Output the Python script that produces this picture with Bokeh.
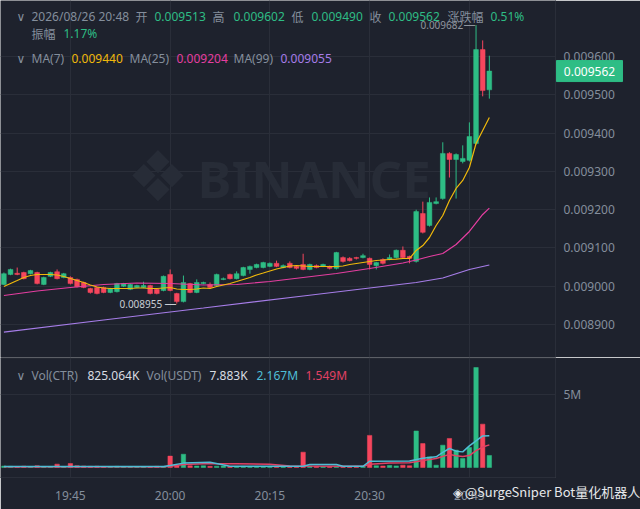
import pandas as pd
from bokeh.plotting import figure
from bokeh.models import (Range1d, LinearAxis, FixedTicker, Grid, Label, Span,
                          PrintfTickFormatter, ColumnDataSource)
from bokeh.core.properties import value
from bokeh.layouts import column
from bokeh.embed import file_html
from bokeh.resources import INLINE

# ---------------- data ----------------
start_time = "2026-08-26 19:35"   # first 1-minute candle

opens = [0.009005, 0.009031, 0.009034, 0.009036, 0.009033, 0.009036, 0.009005, 0.009026, 0.009038, 0.009023,
         0.009023, 0.009018, 0.009010, 0.008994, 0.008997, 0.008997, 0.008984, 0.008986, 0.009000, 0.008992,
         0.008997, 0.008997, 0.009002, 0.008992, 0.008989, 0.009031, 0.008981, 0.008960, 0.009007, 0.008984,
         0.009007, 0.009005, 0.009002, 0.009018, 0.009031, 0.009020, 0.009028, 0.009044, 0.009049, 0.009049,
         0.009052, 0.009060, 0.009049, 0.009060, 0.009052, 0.009057, 0.009044, 0.009054, 0.009052, 0.009052,
         0.009047, 0.009075, 0.009073, 0.009075, 0.009075, 0.009073, 0.009054, 0.009070, 0.009070, 0.009075,
         0.009094, 0.009078, 0.009065, 0.009190, 0.009159, 0.009216, 0.009229, 0.009347, 0.009331, 0.009326,
         0.009329, 0.009373, 0.009618, 0.009513]
highs = [0.009036, 0.009046, 0.009049, 0.009038, 0.009043, 0.009038, 0.009025, 0.009038, 0.009044, 0.009035,
         0.009026, 0.009020, 0.009012, 0.008996, 0.008999, 0.008999, 0.008996, 0.009009, 0.009009, 0.009007,
         0.009004, 0.009012, 0.009004, 0.008994, 0.009028, 0.009044, 0.008983, 0.009028, 0.009009, 0.009018,
         0.009012, 0.009010, 0.009033, 0.009023, 0.009033, 0.009039, 0.009051, 0.009054, 0.009059, 0.009064,
         0.009062, 0.009067, 0.009057, 0.009065, 0.009054, 0.009085, 0.009059, 0.009057, 0.009059, 0.009054,
         0.009090, 0.009078, 0.009076, 0.009077, 0.009085, 0.009075, 0.009064, 0.009073, 0.009083, 0.009096,
         0.009104, 0.009080, 0.009200, 0.009221, 0.009232, 0.009232, 0.009376, 0.009350, 0.009347, 0.009368,
         0.009428, 0.009682, 0.009642, 0.009602]
lows = [0.009003, 0.009029, 0.009029, 0.009018, 0.009031, 0.009005, 0.009003, 0.009024, 0.009018, 0.009021,
        0.009005, 0.008997, 0.008995, 0.008981, 0.008979, 0.008982, 0.008982, 0.008984, 0.008998, 0.008990,
        0.008995, 0.008995, 0.008979, 0.008979, 0.008987, 0.008987, 0.008955, 0.008958, 0.008982, 0.008982,
        0.009005, 0.008995, 0.009000, 0.009016, 0.009018, 0.009018, 0.009026, 0.009033, 0.009047, 0.009047,
        0.009050, 0.009050, 0.009047, 0.009047, 0.009044, 0.009042, 0.009042, 0.009047, 0.009050, 0.009044,
        0.009044, 0.009062, 0.009065, 0.009070, 0.009073, 0.009044, 0.009044, 0.009057, 0.009068, 0.009073,
        0.009073, 0.009060, 0.009062, 0.009138, 0.009156, 0.009214, 0.009226, 0.009284, 0.009229, 0.009321,
        0.009326, 0.009370, 0.009496, 0.009490]
closes = [0.009033, 0.009044, 0.009031, 0.009020, 0.009041, 0.009007, 0.009023, 0.009036, 0.009020, 0.009033,
          0.009007, 0.008999, 0.008997, 0.008984, 0.008981, 0.008984, 0.008994, 0.009007, 0.009007, 0.009005,
          0.009002, 0.009002, 0.008981, 0.008981, 0.009026, 0.008989, 0.008960, 0.009010, 0.008984, 0.009010,
          0.009010, 0.008997, 0.009031, 0.009020, 0.009020, 0.009033, 0.009049, 0.009052, 0.009057, 0.009062,
          0.009060, 0.009052, 0.009054, 0.009049, 0.009047, 0.009044, 0.009057, 0.009049, 0.009057, 0.009047,
          0.009088, 0.009065, 0.009067, 0.009073, 0.009080, 0.009057, 0.009062, 0.009060, 0.009075, 0.009094,
          0.009075, 0.009073, 0.009195, 0.009141, 0.009219, 0.009221, 0.009347, 0.009331, 0.009344, 0.009334,
          0.009391, 0.009618, 0.009511, 0.009562]
volumes_m = [0.10, 0.08, 0.06, 0.09, 0.05, 0.12, 0.07, 0.06, 0.23, 0.05,
             0.27, 0.12, 0.10, 0.08, 0.09, 0.07, 0.06, 0.08, 0.07, 0.05,
             0.06, 0.04, 0.06, 0.08, 0.07, 0.78, 0.14, 0.91, 0.12, 0.10,
             0.12, 0.08, 0.09, 0.10, 0.07, 0.06, 0.08, 0.06, 0.07, 0.06,
             0.07, 0.06, 0.05, 0.07, 0.06, 1.05, 0.10, 0.08, 0.07, 0.06,
             0.08, 0.06, 0.07, 0.08, 0.09, 2.20, 0.12, 0.10, 0.14, 0.11,
             0.16, 0.12, 2.50, 1.64, 0.73, 0.16, 1.53, 1.99, 1.19, 0.62,
             1.37, 6.85, 2.97, 0.825]

ma7 = [0.0089995, 0.0090073, 0.0090151, 0.0090230, 0.0090282, 0.0090308, 0.0090308, 0.0090308, 0.0090295, 0.0090256,
       0.0090204, 0.0090151, 0.0090099, 0.0090034, 0.0089982, 0.0089955, 0.0089942, 0.0089942, 0.0089942, 0.0089942,
       0.0089955, 0.0089955, 0.0089942, 0.0089942, 0.0089955, 0.0089968, 0.0089929, 0.0089916, 0.0089916, 0.0089929,
       0.0089955, 0.0089942, 0.0089995, 0.0090034, 0.0090073, 0.0090125, 0.0090178, 0.0090230, 0.0090295, 0.0090347,
       0.0090400, 0.0090452, 0.0090491, 0.0090530, 0.0090543, 0.0090530, 0.0090517, 0.0090517, 0.0090517, 0.0090517,
       0.0090517, 0.0090530, 0.0090569, 0.0090595, 0.0090621, 0.0090647, 0.0090674, 0.0090686, 0.0090700, 0.0090712,
       0.0090726, 0.0090726, 0.0090935, 0.0091065, 0.0091274, 0.0091587, 0.0091848, 0.0092240, 0.0092555, 0.0092763,
       0.0093102, 0.0093728, 0.0094068, 0.0094407]
ma25_idx = [0, 5, 10, 15, 20, 25, 30, 35, 40, 45, 50, 55, 60, 62, 64, 66, 68, 70, 72, 73]
ma25 = [0.0089760, 0.0089877, 0.0089968, 0.0090047, 0.0090086, 0.0090073, 0.0090034, 0.0090047, 0.0090125, 0.0090230,
        0.0090334, 0.0090465, 0.0090608, 0.0090686, 0.0090778, 0.0090856, 0.0091091, 0.0091431, 0.0091875, 0.0092040]
ma99_idx = [0, 15, 30, 45, 55, 62, 66, 70, 73]
ma99 = [0.0088806, 0.0089120, 0.0089433, 0.0089747, 0.0089955, 0.0090099, 0.0090216, 0.0090439, 0.0090556]

vol_ma1_idx = [0, 24, 25, 27, 31, 34, 45, 46, 50, 51, 54, 55, 61, 63, 64, 65, 66, 67, 68, 69, 70, 72, 73]
vol_ma1 = [0.07, 0.07, 0.14, 0.30, 0.36, 0.08, 0.08, 0.20, 0.20, 0.08, 0.08, 0.43, 0.45, 0.64, 0.68, 0.73,
           1.03, 1.30, 1.12, 1.07, 1.48, 2.16, 2.167]
vol_ma2_idx = [0, 24, 25, 27, 30, 35, 40, 43, 54, 55, 58, 61, 63, 65, 67, 68, 69, 70, 71, 72, 73]
vol_ma2 = [0.05, 0.05, 0.08, 0.20, 0.25, 0.25, 0.22, 0.10, 0.08, 0.22, 0.30, 0.32, 0.48, 0.62, 0.90, 0.80,
           0.75, 0.82, 1.15, 1.40, 1.549]

price_ticks = [0.0089, 0.0090, 0.0091, 0.0092, 0.0093, 0.0094, 0.0095, 0.0096]
time_tick_labels = ["19:45", "20:00", "20:15", "20:30", "20:45"]
vol_ticks = [5]
vol_tick_labels = ["5M"]

# ---------------- style ----------------
BG = "#1E222D"
GRID = "#2A2E39"
TXT = "#848E9C"
UP = "#2EBD85"
DN = "#F6465D"
MA7C = "#F0B90B"
MA25C = "#E43EA0"
MA99C = "#A67DE8"
VMA1C = "#4FBED6"
VMA2C = "#E14164"
WM = "#272C37"

W, PRICE_H, VOL_H, AXIS_W, XAXIS_H = 640, 357, 152, 85, 32

t0 = pd.Timestamp(start_time)
times = [t0 + pd.Timedelta(minutes=i) for i in range(len(opens))]
colors = [UP if c >= o else DN for o, c in zip(opens, closes)]
src = ColumnDataSource(dict(
    t=times, o=opens, h=highs, l=lows, c=closes,
    top=[max(o, c) for o, c in zip(opens, closes)],
    bot=[min(o, c) for o, c in zip(opens, closes)],
    color=colors, vol=volumes_m))

tick_ms = [pd.Timestamp(start_time[:11] + s).value / 1e6 for s in time_tick_labels]


def minutes(m):
    return t0 + pd.Timedelta(minutes=m)


xr = Range1d(start=minutes(-0.51), end=minutes(82.95))


def base_fig(h, yr, bottom=0):
    f = figure(width=W, height=h, x_range=xr, y_range=yr, x_axis_type="datetime",
               x_axis_location=None, y_axis_location=None, toolbar_location=None,
               output_backend="svg", min_border=0, min_border_right=AXIS_W,
               min_border_bottom=bottom, background_fill_color=BG, border_fill_color=BG,
               outline_line_color=None)
    f.grid.visible = False
    f.add_layout(Grid(dimension=0, ticker=FixedTicker(ticks=tick_ms), grid_line_color=GRID), "center")
    return f


def right_axis(ticks, **kw):
    return LinearAxis(ticker=FixedTicker(ticks=ticks), major_tick_out=0, major_tick_in=0,
                      minor_tick_out=0, minor_tick_in=0, axis_line_color=GRID,
                      major_label_text_color=TXT, major_label_text_font="Noto Sans",
                      major_label_text_font_size="12px", major_label_standoff=8, **kw)


def lab(fig, fb, text, rx, ry, color, size="12px", font="Noto Sans", style="normal"):
    fig.add_layout(Label(x=rx, y=fb - ry, x_units="screen", y_units="screen", text=text,
                         text_color=color, text_font=font, text_font_size=size,
                         text_font_style=style, text_baseline="middle", text_align="left"))


# ---------------- price panel ----------------
p = base_fig(PRICE_H, Range1d(0.0088141, 0.0097462))
p.add_layout(Grid(dimension=1, ticker=FixedTicker(ticks=price_ticks), grid_line_color=GRID), "center")
p.add_layout(right_axis(price_ticks, formatter=PrintfTickFormatter(format="%.6f")), "right")

FB = PRICE_H
lab(p, FB, "❖", 126, 176, WM, size="70px", font="DejaVu Sans")
lab(p, FB, "BINANCE", 197, 177, WM, size="51px", style="bold")

p.segment(x0="t", y0="l", x1="t", y1="h", line_color="color", line_width=1, source=src)
p.vbar(x="t", width=43000, top="top", bottom="bot", fill_color="color", line_color="color",
       line_width=0.5, source=src)
p.line([times[i] for i in ma99_idx], ma99, line_color=MA99C, line_width=1.2)
p.line([times[i] for i in ma25_idx], ma25, line_color=MA25C, line_width=1.2)
p.line(times, ma7, line_color=MA7C, line_width=1.2)

CJK = "Noto Sans CJK SC"
hdr = [("∨", 16, 16, TXT, "DejaVu Sans"), ("2026/08/26 20:48", 31, 16, TXT, "Noto Sans"),
       ("开", 135, 16, TXT, CJK), ("0.009513", 154, 16, UP, "Noto Sans"),
       ("高", 212, 16, TXT, CJK), ("0.009602", 233, 16, UP, "Noto Sans"),
       ("低", 291, 16, TXT, CJK), ("0.009490", 311, 16, UP, "Noto Sans"),
       ("收", 369, 16, TXT, CJK), ("0.009562", 388, 16, UP, "Noto Sans"),
       ("涨跌幅", 447, 16, TXT, CJK), ("0.51%", 490, 16, UP, "Noto Sans"),
       ("振幅", 31, 33, TXT, CJK), ("1.17%", 63, 33, UP, "Noto Sans"),
       ("∨", 16, 58, TXT, "DejaVu Sans"), ("MA(7)", 31, 58, TXT, "Noto Sans"),
       ("0.009440", 71, 58, MA7C, "Noto Sans"), ("MA(25)", 129, 58, TXT, "Noto Sans"),
       ("0.009204", 176, 58, MA25C, "Noto Sans"), ("MA(99)", 233, 58, TXT, "Noto Sans"),
       ("0.009055", 280, 58, MA99C, "Noto Sans")]
for text, rx, ry, col, font in hdr:
    lab(p, FB, text, rx, ry, col, font=font)

lab(p, FB, "0.009682", 420, 24, "#8F959E", size="10px")
lab(p, FB, "—", 463, 24, "#8F959E", size="12px")
lab(p, FB, "0.008955", 119, 303, "#C9CDD3", size="10px")
lab(p, FB, "—", 164, 303, "#C9CDD3", size="12px")

# current-price badge in the price-axis strip (drawn at the last close)
badge_t = minutes(88.06)
p.rect(x=[badge_t], y=[closes[-1]], width=66, height=21, width_units="screen",
       height_units="screen", fill_color=UP, line_color=UP, level="overlay")
p.text(x=[badge_t], y=[closes[-1]], text=["%.6f" % closes[-1]], text_color="#FFFFFF",
       text_font=value("Noto Sans"), text_font_size="12px", text_align="center",
       text_baseline="middle", level="overlay")

# ---------------- volume panel ----------------
pv = base_fig(VOL_H, Range1d(-0.685, 7.534), bottom=XAXIS_H)
pv.add_layout(Grid(dimension=1, ticker=FixedTicker(ticks=vol_ticks), grid_line_color=GRID), "center")
pv.add_layout(right_axis(vol_ticks, major_label_overrides=dict(zip(vol_ticks, vol_tick_labels))), "right")
xax = LinearAxis(ticker=FixedTicker(ticks=tick_ms),
                 major_label_overrides=dict(zip(tick_ms, time_tick_labels)),
                 major_tick_out=0, major_tick_in=0, minor_tick_out=0, minor_tick_in=0,
                 axis_line_color=GRID, major_label_text_color=TXT, major_label_text_font="Noto Sans",
                 major_label_text_font_size="12px", major_label_standoff=9)
pv.add_layout(xax, "below")
pv.add_layout(Span(location=7.534, dimension="width", line_color=GRID, line_width=2))

pv.vbar(x="t", width=40000, top="vol", bottom=0, fill_color="color", line_color="color",
        line_width=0.5, source=src)
pv.line([times[i] for i in vol_ma2_idx], vol_ma2, line_color=VMA2C, line_width=1.5)
pv.line([times[i] for i in vol_ma1_idx], vol_ma1, line_color=VMA1C, line_width=1.5)

VB = PRICE_H + 120
vhdr = [("∨", 16, TXT, "DejaVu Sans"), ("Vol(CTR)", 31, TXT, "Noto Sans"),
        ("825.064K", 87, "#D8DCE1", "Noto Sans"), ("Vol(USDT)", 146, TXT, "Noto Sans"),
        ("7.883K", 209, "#D8DCE1", "Noto Sans"), ("2.167M", 256, VMA1C, "Noto Sans"),
        ("1.549M", 305, VMA2C, "Noto Sans")]
for text, rx, col, font in vhdr:
    lab(pv, VB, text, rx, 375, col, font=font)

# watermark below the volume panel, on the time-axis row
pv.text(x=[minutes(67.5), minutes(69.3)], y=[-1.64, -1.64], text=["◈", "@SurgeSniper Bot量化机器人"],
        text_color="#E6E8EB", text_font=value("Noto Sans CJK SC"), text_font_size="13px",
        text_align="left", text_baseline="middle", level="overlay")

layout = column(p, pv)
open("out.html", "w").write(file_html(layout, INLINE))
